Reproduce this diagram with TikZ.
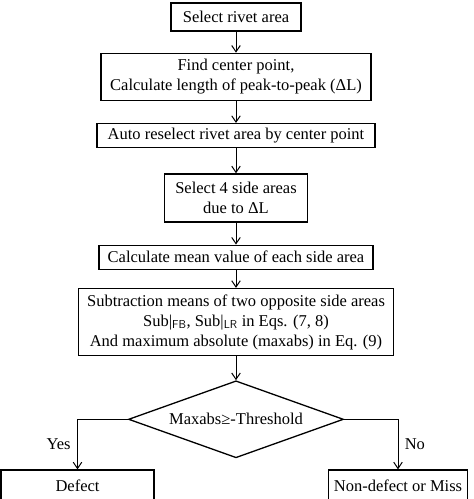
\documentclass[tikz,border=0pt]{standalone}
\usepackage{fontspec}
\setmainfont{Liberation Serif}
\usetikzlibrary{arrows.meta,positioning,shapes.geometric}
\tikzset{
  rivetpicture/.style={x=1pt, y=1pt, node distance=22pt},
  rivetbox/.style={draw, line width=1.3pt, align=center, font=\fontsize{16.5}{20}\selectfont, inner xsep=4pt, inner ysep=2pt},
  rivetgate/.style={diamond, draw, line width=1.3pt, aspect=2.8, font=\fontsize{16.5}{20}\selectfont, minimum width=215pt, minimum height=77pt, inner sep=0pt},
  rivetarrow/.style={-{Straight Barb[length=2.2mm, width=3mm, line width=1pt]}, line width=1pt},
  rivetlabel/.style={font=\fontsize{16.5}{20}\selectfont}
}

\begin{document}
\begin{tikzpicture}[rivetpicture]
\useasboundingbox (0,0) rectangle (474,-499);
\node[rivetbox, minimum width=130pt, minimum height=28pt] (select) at (236,-17) {Select rivet area};
\node[rivetbox, minimum width=270pt, minimum height=47pt, below=21pt of select] (center) {Find center point,\\ Calculate length of peak-to-peak (ΔL)};
\node[rivetbox, minimum width=278pt, minimum height=24pt, below=22pt of center] (reselect) {Auto reselect rivet area by center point};
\node[rivetbox, minimum width=143pt, minimum height=48pt, below=25pt of reselect] (sides) {Select 4 side areas\\ due to ΔL};
\node[rivetbox, minimum width=274pt, minimum height=24pt, below=22pt of sides] (mean) {Calculate mean value of each side area};
\node[rivetbox, minimum width=315pt, minimum height=67pt, below=18pt of mean] (subtract) {Subtraction means of two opposite side areas\\ Sub|\textsubscript{\sffamily FB}, Sub|\textsubscript{\sffamily LR} in Eqs. (7, 8)\\ And maximum absolute (maxabs) in Eq. (9)};
\node[rivetgate, below=24pt of subtract] (gate) {Maxabs≥-Threshold};
\node[rivetbox, minimum width=153pt, minimum height=32pt] (defect) at (77.5,-486) {Defect};
\node[rivetbox, minimum width=139pt, minimum height=32pt] (nodefect) at (398,-486) {Non-defect or Miss};
\draw[rivetarrow] (select) -- (center);
\draw[rivetarrow] (center) -- (reselect);
\draw[rivetarrow] (reselect) -- (sides);
\draw[rivetarrow] (sides) -- (mean);
\draw[rivetarrow] (mean) -- (subtract);
\draw[rivetarrow] (subtract) -- (gate);
\draw[rivetarrow] (gate.west) -| node[rivetlabel, pos=0.75, left=3pt] {Yes} (defect);
\draw[rivetarrow] (gate.east) -| node[rivetlabel, pos=0.75, right=3pt] {No} (nodefect);
\end{tikzpicture}
\end{document}
